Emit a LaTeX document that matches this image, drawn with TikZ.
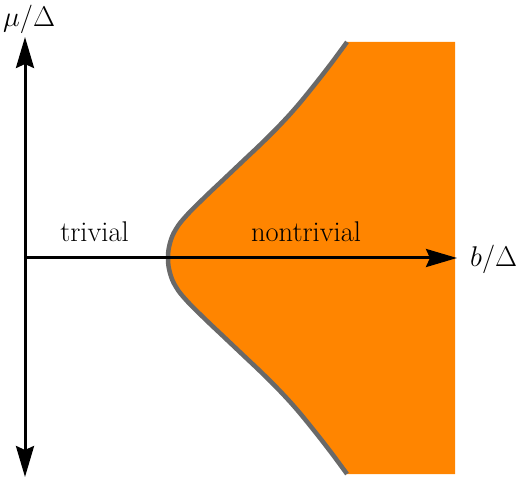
\RequirePackage{fix-cm}
\documentclass[tikz,border=0pt]{standalone}
\usepackage{fontspec}
\usetikzlibrary{arrows.meta}
\definecolor{phaseorange}{RGB}{255,133,0}
\definecolor{edgegray}{RGB}{105,105,105}

\begin{document}
\begin{tikzpicture}[x=1pt,y=1pt]
    \tikzstyle{axis} = [line width=3pt, >={Stealth[length=31pt,width=18pt,inset=4pt]}]
    \tikzstyle{phaselabel} = [inner sep=0pt, font=\fontsize{28.5}{34}\selectfont]
    \tikzstyle{boundary} = [line width=4.5pt, draw=edgegray]

    \useasboundingbox (-25,-221) rectangle (495,258);

    % phase boundary
    \coordinate (top) at (322,216);
    \coordinate (bottom) at (322,-216);
    \coordinate (topright) at (430,216);
    \coordinate (bottomright) at (430,-216);
    \path[fill=phaseorange] (bottomright) -- (topright) -- (top)
        -- plot[smooth, tension=0.7] coordinates {(305,193) (287,170) (270.5,150) (254,132) (237,115) (218,97) (199,79) (180,61) (162,43) (151,29) (145,15) (143,0)
           (145,-15) (151,-29) (162,-43) (180,-61) (199,-79) (218,-97) (237,-115) (254,-132) (270.5,-150) (287,-170) (305,-193)}
        -- (bottom) -- cycle;
    \draw[boundary] plot[smooth, tension=0.7] coordinates {(top) (305,193) (287,170) (270.5,150) (254,132) (237,115) (218,97) (199,79) (180,61) (162,43) (151,29) (145,15) (143,0)
           (145,-15) (151,-29) (162,-43) (180,-61) (199,-79) (218,-97) (237,-115) (254,-132) (270.5,-150) (287,-170) (305,-193) (bottom)};

    % axes
    \coordinate (O) at (0,0);
    \coordinate (bmax) at (432,0);
    \coordinate (mumax) at (0,221);
    \coordinate (mumin) at (0,-219);
    \draw [axis, <->] (mumin) -- (mumax);
    \draw [axis, ->] (O) -- (bmax);

    \node [phaselabel, anchor=base west] (mulabel) at (-22,231) {$\mu/\Delta$};
    \node [phaselabel, anchor=base west] (blabel) at (445,-9) {$b/\Delta$};
    \node [phaselabel, anchor=base] (trivial) at (69.5,16) {trivial};
    \node [phaselabel, anchor=base] (nontrivial) at (281,16) {nontrivial};
\end{tikzpicture}
\end{document}
